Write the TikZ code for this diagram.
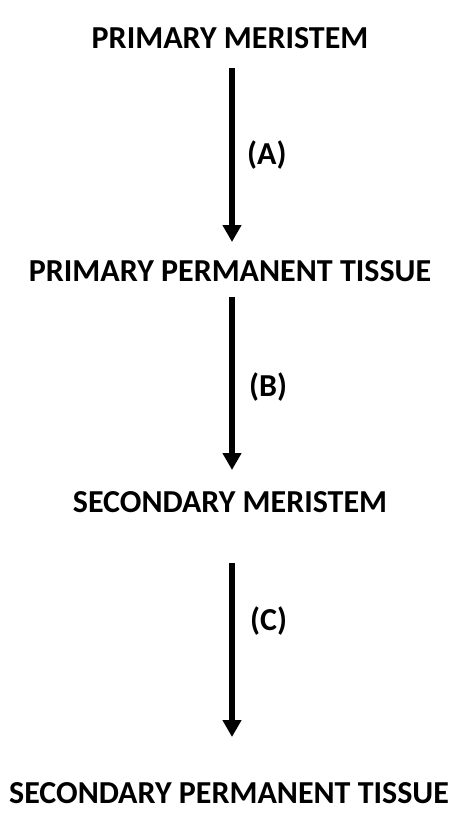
\documentclass[tikz,border=0pt]{standalone}
\usepackage{fontspec}
\setmainfont{Carlito}
\usetikzlibrary{arrows.meta}
\begin{document}
\begin{tikzpicture}[x=1pt,y=-1pt,
  lbl/.style={font=\fontsize{32}{38}\selectfont\bfseries, inner sep=0pt, anchor=center},
  tag/.style={font=\fontsize{32}{38}\selectfont\bfseries, inner sep=0pt, anchor=west},
  flow/.style={line width=5.5pt, -{Triangle[length=17pt,width=18pt]}}]
\useasboundingbox[fill=white] (0,0) rectangle (465,820);
\node[lbl] (pm) at (230,38) {PRIMARY MERISTEM};
\node[lbl] (ppt) at (230,271) {PRIMARY PERMANENT TISSUE};
\node[lbl] (sm) at (230,502) {SECONDARY MERISTEM};
\node[lbl] (spt) at (229,793) {SECONDARY PERMANENT TISSUE};
\coordinate (a1) at (232,68); \coordinate (a2) at (232,242);
\coordinate (b1) at (232,297); \coordinate (b2) at (232,470);
\coordinate (c1) at (232,563); \coordinate (c2) at (232,737);
\draw[flow] (a1) -- (a2);
\draw[flow] (b1) -- (b2);
\draw[flow] (c1) -- (c2);
\node[tag] (la) at (247,155) {(A)};
\node[tag] (lb) at (249,387) {(B)};
\node[tag] (lc) at (250,621) {(C)};
\end{tikzpicture}
\end{document}
